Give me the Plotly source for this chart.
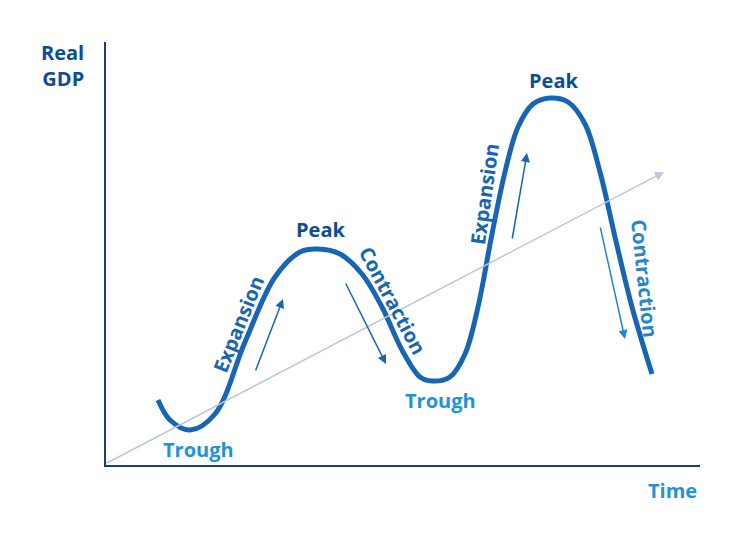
import plotly.graph_objects as go

# curve key points (pixel space of the reference, y downwards)
curve_x = [158, 170, 190, 215, 245, 275, 300, 318, 340, 362, 382, 402, 420, 432, 450, 465, 478, 492, 505, 518, 533, 550, 568, 585, 600, 615, 632, 652]
curve_y = [398, 418, 428, 412, 340, 275, 250, 247, 252, 272, 305, 348, 375, 379, 375, 352, 305, 232, 170, 125, 102, 96, 100, 122, 170, 235, 305, 372]

labels = ["Peak", "Peak", "Trough", "Trough"]
label_x = [320, 553, 198, 440]
label_y = [227, 78, 447, 398]

DARK = "#0d4c98"
LIGHT = "#1f93da"
CURVE = "#1766b5"
FONT = "Open Sans"

fig = go.Figure()

fig.add_trace(go.Scatter(x=curve_x, y=curve_y, mode="lines",
                         line=dict(color=CURVE, width=5, shape="spline", smoothing=1.0),
                         hoverinfo="skip", showlegend=False))

# axes
fig.add_shape(type="line", x0=105, y0=40, x1=105, y1=464, line=dict(color="#1a3d78", width=2))
fig.add_shape(type="line", x0=104, y0=464, x1=700, y1=464, line=dict(color="#1a3d78", width=2))

def arrow(x0, y0, x1, y1, color, width=1.5, head=2):
    fig.add_annotation(x=x1, y=y1, ax=x0, ay=y0, xref="x", yref="y", axref="x", ayref="y",
                       text="", showarrow=True, arrowhead=head, arrowsize=1.2,
                       arrowwidth=width, arrowcolor=color)

arrow(105, 462, 664, 170, "#b9c7db", 1.5)
arrow(255, 370, 283, 297, CURVE)
arrow(345, 280, 386, 362, CURVE)
arrow(512, 238, 527, 151, CURVE)
arrow(600, 224, 625, 337, "#1f86cf")

for t, x, y in zip(labels, label_x, label_y):
    fig.add_annotation(x=x, y=y, text=f"<b>{t}</b>", showarrow=False,
                       font=dict(family=FONT, size=20, color=DARK if t == "Peak" else LIGHT))

rot = [("Expansion", 238, 322, -68, CURVE),
       ("Contraction", 393, 298, 62, CURVE),
       ("Expansion", 484, 192, -82, CURVE),
       ("Contraction", 645, 276, 84, "#1f86cf")]
for t, x, y, a, c in rot:
    fig.add_annotation(x=x, y=y, text=f"<b>{t}</b>", showarrow=False, textangle=a,
                       font=dict(family=FONT, size=20, color=c))

fig.add_annotation(x=62, y=63, text="<b>Real<br>GDP</b>", showarrow=False, align="right",
                   font=dict(family=FONT, size=20, color=DARK))
fig.add_annotation(x=672, y=488, text="<b>Time</b>", showarrow=False,
                   font=dict(family=FONT, size=20, color=LIGHT))

# ranges shifted to compensate the page's 8px body margin
fig.update_layout(
    width=740, height=536, margin=dict(l=0, r=0, t=0, b=0),
    plot_bgcolor="white", paper_bgcolor="white",
    xaxis=dict(range=[8, 748], visible=False, fixedrange=True),
    yaxis=dict(range=[542, 6], visible=False, fixedrange=True),
)

fig.write_html("out.html")
